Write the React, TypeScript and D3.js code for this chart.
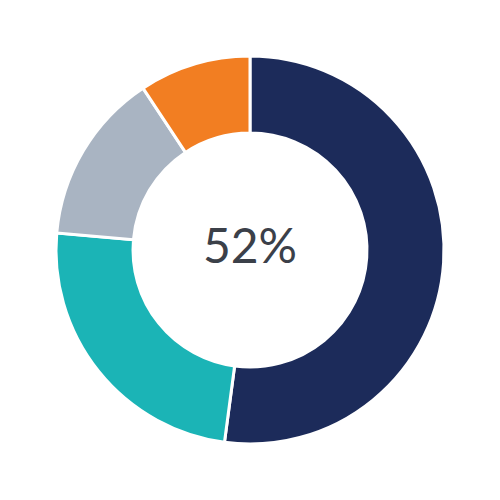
import React from "react";
import * as d3 from "d3";

const categories = ["A", "B", "C", "D"];
const values = [52.1, 24.3, 14.3, 9.3];
const colors = ["#1c2b5a", "#1bb4b6", "#a9b4c2", "#f27e22"];
const centerLabel = "52%";

export default function App() {
  const width = 500;
  const height = 500;
  const cx = 250;
  const cy = 250;
  const outerR = 194;
  const innerR = 117;

  const pie = d3.pie<number>().sort(null).value((d) => d);
  const arcs = pie(values);
  const arc = d3.arc<d3.PieArcDatum<number>>().innerRadius(innerR).outerRadius(outerR);

  return (
    <svg
      width={width}
      height={height}
      style={{ position: "absolute", left: 0, top: 0, background: "#fff" }}
    >
      <g transform={`translate(${cx},${cy})`}>
        {arcs.map((a, i) => (
          <path
            key={categories[i]}
            d={arc(a) || ""}
            fill={colors[i]}
            stroke="#ffffff"
            strokeWidth={3}
          />
        ))}
        <text
          x={0}
          y={13}
          textAnchor="middle"
          fontFamily="Lato, 'Open Sans', sans-serif"
          fontSize={48}
          fill="#3b4049"
        >
          {centerLabel}
        </text>
      </g>
    </svg>
  );
}
